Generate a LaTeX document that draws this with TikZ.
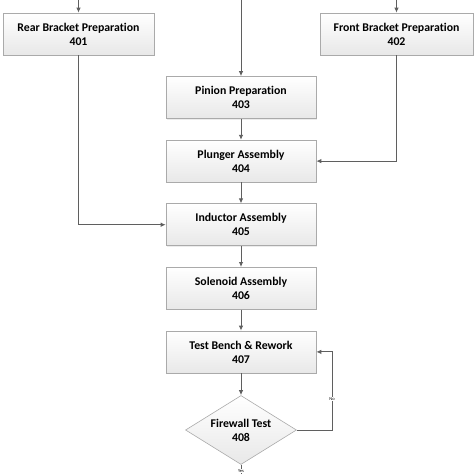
\documentclass[tikz,border=0pt]{standalone}
\usepackage{fontspec}
\setmainfont{Carlito}[Ligatures={NoCommon}]
\usetikzlibrary{positioning,shapes.geometric,arrows.meta,shadows}
\definecolor{lineclr}{RGB}{95,95,95}
\definecolor{boxclr}{RGB}{170,170,170}
\definecolor{fillclr}{RGB}{232,232,232}
\tikzset{ %
  ,>={Latex[length=5pt,width=4.5pt]}
  ,every node/.style={font=\bfseries\fontsize{11.8}{14}\selectfont, align=center}
  ,procbox/.style={draw=boxclr, line width=0.6pt, rectangle, inner sep=2pt, minimum width=151pt, minimum height=42pt, node distance=21pt, top color=white, bottom color=fillclr, drop shadow={opacity=0.15, shadow xshift=1pt, shadow yshift=-1pt}}
  ,decision/.style={draw=boxclr, line width=0.6pt, diamond, aspect=1.6, inner sep=0, minimum width=111pt, minimum height=69pt, node distance=22pt, top color=white, bottom color=fillclr}
  ,flow/.style={->, draw=lineclr, line width=0.9pt}
  ,tag/.style={font=\fontsize{4.5}{5}\selectfont, fill=white, inner sep=0.5pt}
}
\begin{document}
\begin{tikzpicture}[x=1pt, y=-1pt]
  \useasboundingbox (0,0) rectangle (474,474);
  \node[procbox] (rear) at (78.5,34) {Rear Bracket Preparation\\401};
  \node[procbox, minimum width=153pt] (front) at (396.5,34) {Front Bracket Preparation\\402};
  \node[procbox, minimum width=150pt] (pinion) at (241,97.5) {Pinion Preparation\\403};
  \node[procbox, minimum width=150pt, below=of pinion] (plunger) {Plunger Assembly\\404};
  \node[procbox, minimum width=150pt, below=of plunger] (inductor) {Inductor Assembly\\405};
  \node[procbox, minimum width=150pt, below=of inductor] (solenoid) {Solenoid Assembly\\406};
  \node[procbox, minimum width=150pt, below=of solenoid] (testbench) {Test Bench \& Rework\\407};
  \node[decision, below=of testbench] (firewall) {Firewall Test\\408};
  % free ends
  \coordinate (inrear) at (78.5,0);
  \coordinate (infront) at (396.5,0);
  \coordinate (inpinion) at (241,0);
  \coordinate (noturn) at (332,0 |- firewall.east);
  \coordinate (yesend) at (241,474);
  \draw[flow] (inrear) -- (rear);
  \draw[flow] (infront) -- (front);
  \draw[flow] (inpinion) -- (pinion);
  \draw[flow] (pinion) -- (plunger);
  \draw[flow] (plunger) -- (inductor);
  \draw[flow] (inductor) -- (solenoid);
  \draw[flow] (solenoid) -- (testbench);
  \draw[flow] (testbench) -- (firewall);
  \draw[flow] (rear.south) |- (inductor.west);
  \draw[flow] (front.south) |- (plunger.east);
  \draw[flow] (firewall.east) -- (noturn) |- node[tag, pos=0.2] {No} (testbench.east);
  \draw[draw=lineclr, line width=0.9pt] (firewall.south) -- node[tag, pos=0.7] {Yes} (yesend);
\end{tikzpicture}
\end{document}
